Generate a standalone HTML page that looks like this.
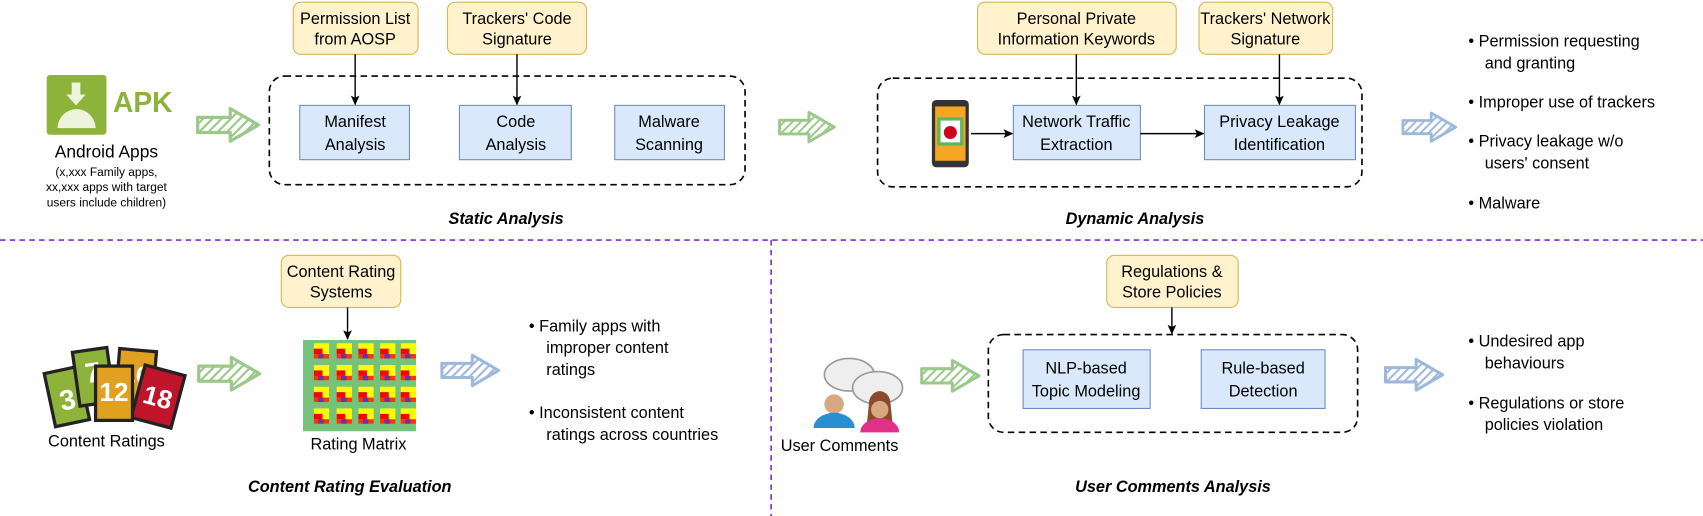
<!DOCTYPE html>
<html><head><meta charset="utf-8"><style>
html,body{margin:0;padding:0;background:#fff;}
svg{display:block;font-family:"Liberation Sans",sans-serif;}
</style></head><body>
<svg width="1703" height="516" viewBox="0 0 1568 475" preserveAspectRatio="none" xmlns="http://www.w3.org/2000/svg">
<defs>
<marker id="ah" markerWidth="10" markerHeight="10" refX="8" refY="5" orient="auto" markerUnits="userSpaceOnUse">
<path d="M0,1 L9,5 L0,9 L2,5 Z" fill="#000"/></marker>
<pattern id="hg" width="6" height="6" patternUnits="userSpaceOnUse" patternTransform="rotate(45)"><rect width="6" height="6" fill="#fff"/><rect width="2" height="6" fill="#9cc98a"/></pattern>
<pattern id="hb" width="6" height="6" patternUnits="userSpaceOnUse" patternTransform="rotate(45)"><rect width="6" height="6" fill="#fff"/><rect width="2" height="6" fill="#9db8dc"/></pattern>
<symbol id="arr" viewBox="0 0 60 34"><path d="M2,10 L32,10 L32,2 L58,17 L32,32 L32,24 L2,24 Z" stroke-width="3" stroke-linejoin="round"/></symbol>
<g id="cell"><rect x="0" y="0" width="14" height="5" fill="#ff0"/><rect x="0" y="5" width="8" height="5" fill="#f00"/><rect x="8" y="5" width="6" height="5" fill="#ff0"/><rect x="0" y="10" width="14" height="4" fill="#f30"/><rect x="4" y="10" width="5" height="4" fill="#7030a0"/></g>
</defs>
<g font-size="15" fill="#000" text-anchor="middle">
<g fill="#fff2cc" stroke="#d6b656">
<rect x="270" y="2" width="115" height="48" rx="7"/>
<rect x="412" y="2" width="128" height="48" rx="7"/>
<rect x="900" y="2" width="183" height="48" rx="7"/>
<rect x="1104" y="2" width="123" height="48" rx="7"/>
<rect x="259" y="235" width="110" height="48" rx="7"/>
<rect x="1019" y="235" width="121" height="48" rx="7"/>
</g>
<text x="327" y="22">Permission List</text><text x="327" y="41">from AOSP</text>
<text x="476" y="22">Trackers' Code</text><text x="476" y="41">Signature</text>
<text x="991" y="22">Personal Private</text><text x="991" y="41">Information Keywords</text>
<text x="1165" y="22">Trackers' Network</text><text x="1165" y="41">Signature</text>
<text x="314" y="255">Content Rating</text><text x="314" y="274">Systems</text>
<text x="1079" y="255">Regulations &amp;</text><text x="1079" y="274">Store Policies</text>
<g fill="none" stroke="#000" stroke-width="1.5" stroke-dasharray="6,4">
<rect x="248" y="70" width="438" height="100" rx="14"/>
<rect x="808" y="72" width="446" height="100" rx="14"/>
<rect x="910" y="308" width="340" height="90" rx="14"/>
</g>
<g fill="#dae8fc" stroke="#6c8ebf">
<rect x="276" y="97" width="101" height="50"/>
<rect x="423" y="97" width="103" height="50"/>
<rect x="566" y="97" width="101" height="50"/>
<rect x="933" y="97" width="117" height="50"/>
<rect x="1109" y="97" width="139" height="50"/>
<rect x="942" y="322" width="117" height="54"/>
<rect x="1106" y="322" width="114" height="54"/>
</g>
<text x="327" y="117">Manifest</text><text x="327" y="138">Analysis</text>
<text x="475" y="117">Code</text><text x="475" y="138">Analysis</text>
<text x="616" y="117">Malware</text><text x="616" y="138">Scanning</text>
<text x="991" y="117">Network Traffic</text><text x="991" y="138">Extraction</text>
<text x="1178" y="117">Privacy Leakage</text><text x="1178" y="138">Identification</text>
<text x="1000" y="344">NLP-based</text><text x="1000" y="365">Topic Modeling</text>
<text x="1163" y="344">Rule-based</text><text x="1163" y="365">Detection</text>
<g stroke="#000" stroke-width="1.3" marker-end="url(#ah)">
<line x1="327" y1="50" x2="327" y2="96"/>
<line x1="476" y1="50" x2="476" y2="96"/>
<line x1="991" y1="50" x2="991" y2="96"/>
<line x1="1178" y1="50" x2="1178" y2="96"/>
<line x1="894" y1="123" x2="932" y2="123"/>
<line x1="1050" y1="123" x2="1108" y2="123"/>
<line x1="320" y1="283" x2="320" y2="312"/>
<line x1="1079" y1="283" x2="1079" y2="307"/>
</g>
<g font-weight="bold" font-style="italic" font-size="15">
<text x="466" y="206">Static Analysis</text>
<text x="1045" y="206">Dynamic Analysis</text>
<text x="322" y="453">Content Rating Evaluation</text>
<text x="1080" y="453">User Comments Analysis</text>
</g>
<g stroke="#7b2fd1" stroke-width="1.5" stroke-dasharray="5,4">
<line x1="0" y1="221" x2="1568" y2="221"/>
<line x1="710" y1="221" x2="710" y2="475"/>
</g>
<g fill="url(#hg)" stroke="#9cc98a">
<use href="#arr" x="180" y="98" width="60" height="34"/>
<use href="#arr" x="716" y="101" width="54" height="32"/>
<use href="#arr" x="180" y="327" width="62" height="34"/>
<use href="#arr" x="845" y="330" width="60" height="32"/>
</g>
<g fill="url(#hb)" stroke="#9db8dc">
<use href="#arr" x="1290" y="101" width="52" height="32"/>
<use href="#arr" x="405" y="325" width="56" height="32"/>
<use href="#arr" x="1273" y="329" width="58" height="32"/>
</g>
<rect x="43" y="69" width="55" height="55" rx="3" fill="#8db33a"/>
<path d="M53,118 a17,17 0 0 1 35,0 Z" fill="#eef3dc"/>
<rect x="66" y="76" width="8" height="12" fill="#eef3dc"/><path d="M61,87 L79,87 L70,97 Z" fill="#eef3dc"/>
<text x="104" y="103" font-size="26" font-weight="bold" fill="#8db33a" text-anchor="start">APK</text>
<text x="98" y="145" font-size="16">Android Apps</text>
<g font-size="11"><text x="98" y="162">(x,xxx Family apps,</text><text x="98" y="176">xx,xxx apps with target</text><text x="98" y="190">users include children)</text></g>
<rect x="858" y="92" width="34" height="62" rx="4" fill="#333"/>
<rect x="861" y="98" width="28" height="50" fill="#f5a623"/>
<rect x="863" y="108" width="24" height="26" fill="#5cb85c"/>
<rect x="866" y="111" width="18" height="20" fill="#fff"/>
<circle cx="875" cy="122" r="6" fill="#d0021b"/>
<g transform="translate(0,-8)">
<g transform="rotate(-12 62 375)"><rect x="46" y="348" width="32" height="50" fill="#8db33a" stroke="#222" stroke-width="3"/><text x="62" y="385" font-size="26" font-weight="bold" fill="#fff">3</text></g>
<g transform="rotate(-8 85 355)"><rect x="70" y="330" width="32" height="50" fill="#8db33a" stroke="#222" stroke-width="3"/><text x="86" y="360" font-size="26" font-weight="bold" fill="#fff">7</text></g>
<g transform="rotate(5 122 355)"><rect x="108" y="330" width="34" height="50" fill="#e0a020" stroke="#222" stroke-width="3"/><text x="125" y="360" font-size="22" font-weight="bold" fill="#fff">16</text></g>
<g transform="rotate(15 145 375)"><rect x="126" y="348" width="38" height="50" fill="#c0142b" stroke="#222" stroke-width="3"/><text x="145" y="382" font-size="24" font-weight="bold" fill="#fff">18</text></g>
<rect x="88" y="345" width="34" height="50" fill="#e0a020" stroke="#222" stroke-width="3"/>
<text x="105" y="377" font-size="24" font-weight="bold" fill="#fff">12</text>
</g>
<text x="98" y="411" font-size="15">Content Ratings</text>
<rect x="279" y="313" width="104" height="84" fill="#77c27a"/>
<g>
<use href="#cell" x="289" y="316"/><use href="#cell" x="310" y="316"/><use href="#cell" x="330" y="316"/><use href="#cell" x="350" y="316"/><use href="#cell" x="369" y="316"/>
<use href="#cell" x="289" y="336"/><use href="#cell" x="310" y="336"/><use href="#cell" x="330" y="336"/><use href="#cell" x="350" y="336"/><use href="#cell" x="369" y="336"/>
<use href="#cell" x="289" y="356"/><use href="#cell" x="310" y="356"/><use href="#cell" x="330" y="356"/><use href="#cell" x="350" y="356"/><use href="#cell" x="369" y="356"/>
<use href="#cell" x="289" y="376"/><use href="#cell" x="310" y="376"/><use href="#cell" x="330" y="376"/><use href="#cell" x="350" y="376"/><use href="#cell" x="369" y="376"/>
</g>
<text x="330" y="414" font-size="15">Rating Matrix</text>
<ellipse cx="782" cy="345" rx="23" ry="15" fill="#eee" stroke="#999" stroke-width="1.5"/>
<ellipse cx="808" cy="357" rx="23" ry="15" fill="#eee" stroke="#999" stroke-width="1.5"/>
<circle cx="768" cy="372" r="9" fill="#d8a882"/><path d="M749,394 a19,14 0 0 1 38,0 Z" fill="#2a8fd0"/>
<path d="M800,372 a10,12 0 0 1 20,0 L822,392 L798,392 Z" fill="#8b4a2b"/>
<circle cx="810" cy="377" r="8" fill="#d8a882"/><path d="M792,398 a18,13 0 0 1 36,0 Z" fill="#e0308a"/>
<text x="773" y="415" font-size="15">User Comments</text>
</g>
<g font-size="15" fill="#000">
<text x="1352" y="43">•  Permission requesting</text><text x="1367" y="63">and granting</text>
<text x="1352" y="99">•  Improper use of trackers</text>
<text x="1352" y="135">•  Privacy leakage w/o</text><text x="1367" y="155">users' consent</text>
<text x="1352" y="192">•  Malware</text>
<text x="487" y="305">•  Family apps with</text><text x="503" y="325">improper content</text><text x="503" y="345">ratings</text>
<text x="487" y="385">•  Inconsistent content</text><text x="503" y="405">ratings across countries</text>
<text x="1352" y="319">•  Undesired app</text><text x="1367" y="339">behaviours</text>
<text x="1352" y="376">•  Regulations or store</text><text x="1367" y="396">policies violation</text>
</g>
</svg>
</body></html>
